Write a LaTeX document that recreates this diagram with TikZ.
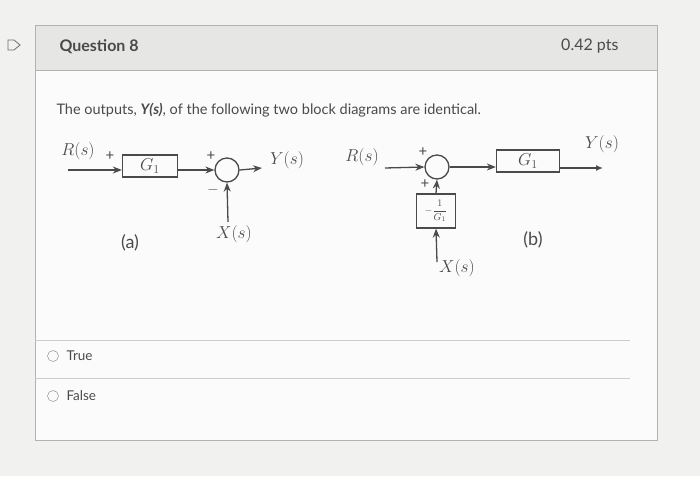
\documentclass[tikz,border=0pt]{standalone}
\usepackage{fontspec}
\setmainfont{Lato}
\usetikzlibrary{arrows.meta}
\definecolor{ink}{HTML}{4A4A4A}
\definecolor{hdr}{HTML}{E6E6E4}
\definecolor{pg}{HTML}{F1F1EF}
\begin{document}
\begin{tikzpicture}[x=1pt,y=-1pt,
  blk/.style={draw=ink,line width=1.3pt,minimum height=22pt,inner sep=2pt,font=\fontsize{17}{20}\selectfont,text=ink},
  sumj/.style={draw=ink,line width=1.3pt,circle,minimum size=24pt,inner sep=0pt},
  sig/.style={ink,line width=1.3pt,-{Stealth[length=9pt,width=7pt,open]}},
  lbl/.style={text=ink,font=\fontsize{18}{20}\selectfont},
  sgn/.style={text=ink,font=\fontsize{15}{16}\selectfont}]
\useasboundingbox (0,0) rectangle (700,476);
\fill[pg] (0,0) rectangle (700,476);
\fill[white!97!gray] (35,25) rectangle (657,440);
\fill[hdr] (35,25) rectangle (657,70);
\draw[gray!60] (35,25) rectangle (657,440);
\draw[gray!60] (35,70) -- (657,70);
\draw[ink!80,line width=0.8pt] (8,40) -- (14,40) -- (20,45) -- (14,50) -- (8,50) -- cycle;
\node[anchor=west,font=\bfseries\fontsize{16}{18}\selectfont,text=ink] (q) at (56,47) {Question 8};
\node[anchor=east,font=\fontsize{16}{18}\selectfont,text=ink] (p) at (622,46) {0.42 pts};
\node[anchor=west,text=ink,font=\fontsize{14.5}{17}\selectfont] (t) at (53,110) {The outputs, \textbf{\textit{Y(s)}}, of the following two block diagrams are identical.};
% (a)
\coordinate (ra) at (68,170);
\node[blk,minimum width=55pt] (g1a) at (150,166) {$G_1$};
\node[sumj] (sa) at (227,170) {};
\coordinate (ya) at (262,168);
\coordinate (xa) at (228,222);
\draw[sig] (ra) -- (g1a.west|-ra);
\draw[sig] (g1a.east|-sa) -- (sa.west);
\draw[sig] (sa.east) -- (ya);
\draw[sig] (xa) -- (sa.south);
\node[lbl] (rla) at (78,151) {$R(s)$};
\node[sgn] (pa1) at (110,156) {+};
\node[sgn] (pa2) at (211,156) {+};
\node[sgn] (ma) at (213,190) {$-$};
\node[lbl] (yla) at (287,160) {$Y(s)$};
\node[lbl] (xla) at (234,234) {$X(s)$};
\node[lbl] (la) at (130,243) {(a)};
% (b)
\coordinate (rb) at (385,168);
\node[sumj] (sb) at (437,167) {};
\node[blk,minimum width=63pt] (g1b) at (528,161) {$G_1$};
\coordinate (yb) at (603,168);
\node[blk,minimum width=39pt,minimum height=34pt,font=\fontsize{10}{12}\selectfont,inner sep=1pt] (inv) at (436,211) {$-\displaystyle\frac{1}{G_1}$};
\coordinate (xb) at (437,262);
\draw[sig] (rb) -- (sb.west);
\draw[sig] (sb.east) -- (g1b.west|-sb);
\draw[ink,line width=1.3pt,-{Latex[length=7pt,width=6pt]}] (g1b.east|-yb) -- (yb);
\draw[sig] (inv.north) -- (sb.south);
\draw[sig] (xb) -- (inv.south);
\node[lbl] (rlb) at (362,157) {$R(s)$};
\node[sgn] (pb1) at (423,152) {+};
\node[sgn] (pb2) at (425,184) {+};
\node[lbl] (ylb) at (602,144) {$Y(s)$};
\node[lbl] (xlb) at (457,268) {$X(s)$};
\node[lbl] (lb) at (533,240) {(b)};
% options
\draw[gray!40] (35,340) -- (630,340);
\draw[gray!40] (35,378) -- (630,378);
\node[draw=gray,circle,minimum size=11pt,inner sep=0pt] (c1) at (53,356) {};
\node[anchor=west,text=ink,font=\fontsize{13.5}{15}\selectfont] (o1) at (63,356) {True};
\node[draw=gray,circle,minimum size=11pt,inner sep=0pt] (c2) at (53,396) {};
\node[anchor=west,text=ink,font=\fontsize{13.5}{15}\selectfont] (o2) at (63,396) {False};
\end{tikzpicture}
\end{document}
